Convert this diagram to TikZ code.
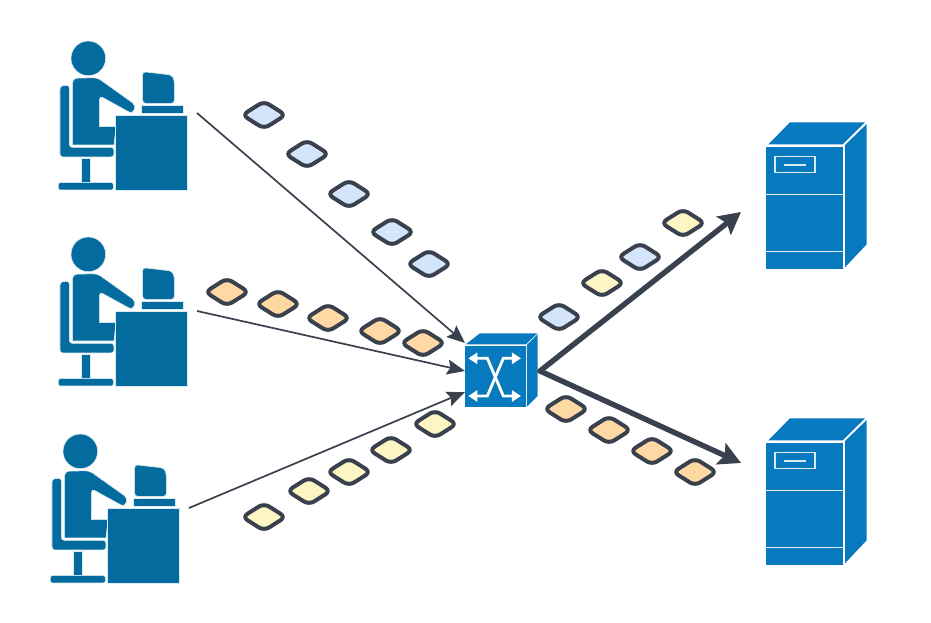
\documentclass[tikz,border=0pt]{standalone}
\usetikzlibrary{shapes.geometric,arrows.meta}
\definecolor{personblue}{HTML}{036B9E}
\definecolor{netblue}{HTML}{0779BE}
\definecolor{linkgrey}{HTML}{3A414E}
\definecolor{edgewhite}{HTML}{D8EAF2}
\definecolor{pktblue}{HTML}{D4E4FA}
\definecolor{pktorange}{HTML}{FFD9A3}
\definecolor{pktyellow}{HTML}{FEF5C4}
\tikzset{
  x=1pt,y=-1pt,
  pkt/.style={diamond,draw=linkgrey,line width=4pt,minimum width=45pt,minimum height=29pt,inner sep=0pt,aspect=1.6,rounded corners=6pt},
  bpkt/.style={pkt,fill=pktblue},
  opkt/.style={pkt,fill=pktorange},
  ypkt/.style={pkt,fill=pktyellow},
  thinlink/.style={draw=linkgrey,line width=1.7pt,-{Stealth[length=18pt,width=15pt,inset=3pt]}},
  thicklink/.style={draw=linkgrey,line width=5.4pt,line cap=round,-{Stealth[length=22pt,width=23pt,inset=4pt]}},
  personpart/.style={fill=personblue,draw=edgewhite,line width=.6pt,line join=round},
  netpart/.style={fill=netblue,draw=none},
  netline/.style={draw=white!85!netblue,line width=1.5pt},
  switcharrow/.style={draw=white,line width=2.8pt,{Stealth[length=9pt,width=11pt,inset=0pt]}-{Stealth[length=9pt,width=11pt,inset=0pt]}},
  person/.pic={
    \begin{scope}[x=0.3333pt,y=-0.3333pt]
      \fill[personpart] (145,85) circle[radius=52];
      \path[personpart] (98,345) [rounded corners=4pt] -- (98,145) -- (172,143) -- (287,225) -- (278,252) -- (178,197) [sharp corners] -- (178,290) -- (228,290) -- (222,345) -- cycle;
      \path[personpart,rounded corners=3pt] (60,168) -- (88,165) -- (88,352) -- (222,352) -- (222,381) -- (60,381) -- cycle;
      \path[personpart] (125,384) rectangle (152,458);
      \path[personpart,rounded corners=2pt] (55,458) rectangle (220,480);
      \path[personpart] (226,255) rectangle (443,480);
      \path[personpart] (305,225) rectangle (430,250);
      \path[personpart,rounded corners=3pt] (308,125) -- (395,135) -- (403,150) -- (403,220) -- (308,220) -- cycle;
    \end{scope}
  },
  server/.pic={
    \begin{scope}[x=0.3333pt,y=-0.3333pt]
      \path[netpart] (48,110) rectangle (278,476);
      \path[netpart] (55,103) -- (120,37) -- (345,37) -- (278,103) -- cycle;
      \path[netpart] (285,105) -- (350,42) -- (350,403) -- (285,472) -- cycle;
      \draw[netline] (48,253) -- (278,253);
      \draw[netline] (48,424) -- (278,424);
      \draw[netline] (75,140) rectangle (195,188);
      \draw[netline] (103,165) -- (168,165);
    \end{scope}
  }
}
\begin{document}
\begin{tikzpicture}
\useasboundingbox (0,0) rectangle (931,623);
\fill[white] (0,0) rectangle (931,623);

% users
\pic at (40,30) {person};
\pic at (40,226) {person};
\pic at (32,423) {person};

% servers
\pic at (750,110) {server};
\pic at (750,406) {server};

% switch
\begin{scope}[shift={(400,290)},x=0.3333pt,y=-0.3333pt]
  \path[netpart] (195,167) rectangle (377,350);
  \path[netpart] (197,163) -- (240,130) -- (412,130) -- (378,163) -- cycle;
  \path[netpart] (381,165) -- (413,133) -- (413,318) -- (381,350) -- cycle;
  \draw[switcharrow] (205,205) -- (262,205) -- (310,318) -- (363,318);
  \draw[switcharrow] (205,318) -- (262,318) -- (310,205) -- (363,205);
\end{scope}

% connector ends
\coordinate (userA) at (197,113);
\coordinate (userB) at (197,311);
\coordinate (userC) at (189,508);
\coordinate (swA) at (465,343);
\coordinate (swB) at (465,371);
\coordinate (swC) at (465,392);
\coordinate (swOut) at (540,371);
\coordinate (srvA) at (741,212);
\coordinate (srvB) at (741,463);

\draw[thinlink] (userA) -- (swA);
\draw[thinlink] (userB) -- (swB);
\draw[thinlink] (userC) -- (swC);
\draw[thicklink] (swOut) -- (srvA);
\draw[thicklink] (swOut) -- (srvB);

% packets
\node[bpkt] (b1) at (264,115) {};
\node[bpkt] (b2) at (307,154) {};
\node[bpkt] (b3) at (349,194) {};
\node[bpkt] (b4) at (392,232) {};
\node[bpkt] (b5) at (429,264) {};
\node[bpkt] (b6) at (559,317) {};
\node[bpkt] (b7) at (640,257) {};

\node[opkt] (o1) at (227,292) {};
\node[opkt] (o2) at (278,304) {};
\node[opkt] (o3) at (328,318) {};
\node[opkt] (o4) at (380,331) {};
\node[opkt] (o5) at (423,343) {};
\node[opkt] (o6) at (566,409) {};
\node[opkt] (o7) at (609,430) {};
\node[opkt] (o8) at (652,451) {};
\node[opkt] (o9) at (695,472) {};

\node[ypkt] (y1) at (264,517) {};
\node[ypkt] (y2) at (309,491) {};
\node[ypkt] (y3) at (349,472) {};
\node[ypkt] (y4) at (391,450) {};
\node[ypkt] (y5) at (435,424) {};
\node[ypkt] (y6) at (602,283) {};
\node[ypkt] (y7) at (683,223) {};
\end{tikzpicture}
\end{document}
